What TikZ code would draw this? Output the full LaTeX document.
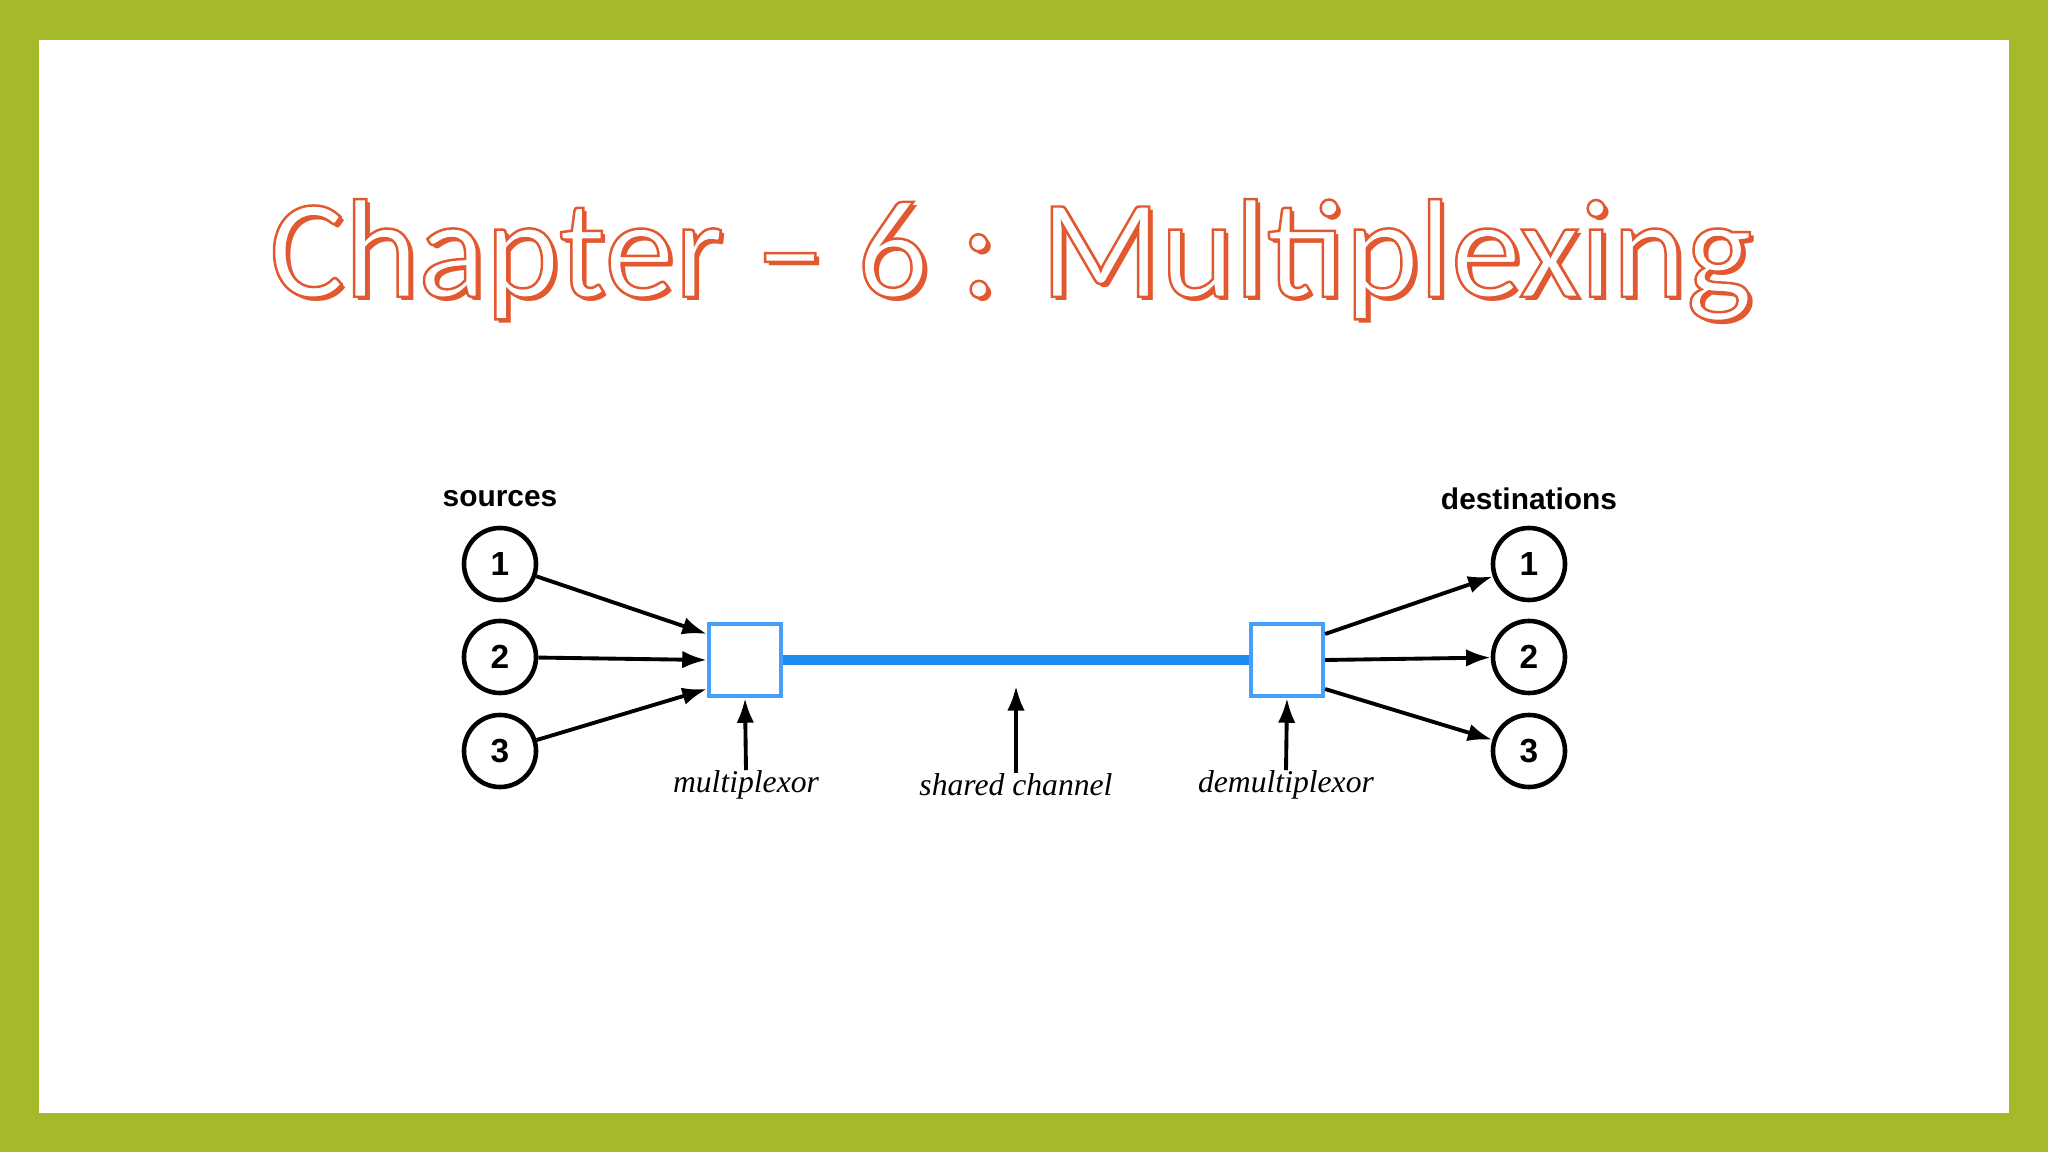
\documentclass[tikz,border=0pt]{standalone}
\usepackage{fontspec}
\setmainfont{Liberation Serif}
\newfontfamily\titlefont{Carlito}
\newfontfamily\lsans{Liberation Sans}
\usetikzlibrary{arrows.meta}
\definecolor{frame}{RGB}{166,185,40}
\definecolor{torange}{RGB}{226,88,48}
\definecolor{chblue}{RGB}{30,140,240}
\definecolor{boxblue}{RGB}{70,160,250}
\begin{document}
\begin{tikzpicture}[x=0.01cm,y=-0.01cm,
  circ/.style={circle,draw,line width=1.3pt,minimum size=0.72cm,inner sep=0pt,font=\lsans\bfseries\fontsize{9.5}{10}\selectfont},
  boxn/.style={draw=boxblue,line width=1.2pt,minimum size=0.72cm,inner sep=0pt},
  arr/.style={line width=1.1pt,-{Latex[length=7pt,width=5pt]}},
  lab/.style={font=\itshape\fontsize{9}{10}\selectfont},
  head/.style={font=\lsans\bfseries\fontsize{8.5}{10}\selectfont}]
\fill[frame] (0,0) rectangle (2048,1152);
\fill[white] (39,40) rectangle (2009,1113);
\useasboundingbox (0,0) rectangle (2048,1152);
% title
\node[text=torange,font=\titlefont\fontsize{40}{44}\selectfont] at (1015,264) {Chapter – 6 : Multiplexing};
\node[text=white,font=\titlefont\fontsize{40}{44}\selectfont] (title) at (1011,260) {Chapter – 6 : Multiplexing};
\node[text=torange,font=\titlefont\fontsize{40}{44}\selectfont] at (1011,260) {\special{pdf:literal direct 1 1 1 rg 0.886 0.345 0.188 RG 1 Tr 0.7 w}Chapter – 6 : Multiplexing\special{pdf:literal direct 0 Tr}};
% nodes
\node[head] (src) at (500,499) {sources};
\node[head] (dst) at (1529,499) {destinations};
\node[circ] (s1) at (500,564) {1};
\node[circ] (s2) at (500,657) {2};
\node[circ] (s3) at (500,751) {3};
\node[circ] (d1) at (1529,564) {1};
\node[circ] (d2) at (1529,657) {2};
\node[circ] (d3) at (1529,751) {3};
\node[boxn] (mux) at (745,660) {};
\node[boxn] (dmx) at (1287,660) {};
\draw[chblue,line width=3pt] (mux.east) -- (dmx.west);
\draw[arr] (s1) -- ([yshift=0.26cm]mux.west);
\draw[arr] (s2) -- (mux.west);
\draw[arr] (s3) -- ([yshift=-0.29cm]mux.west);
\draw[arr] ([yshift=0.26cm]dmx.east) -- (d1);
\draw[arr] (dmx.east) -- (d2);
\draw[arr] ([yshift=-0.29cm]dmx.east) -- (d3);
\node[lab] (lm) at (746,785) {multiplexor};
\node[lab] (lc) at (1016,785) {shared channel};
\node[lab] (ld) at (1286,785) {demultiplexor};
\coordinate (ch) at (1016,686);
\draw[arr] ([yshift=-0.12cm]lm.north) -- (mux.south);
\draw[arr] ([yshift=-0.12cm]lc.north) -- (ch);
\draw[arr] ([yshift=-0.12cm]ld.north) -- (dmx.south);
\end{tikzpicture}
\end{document}
